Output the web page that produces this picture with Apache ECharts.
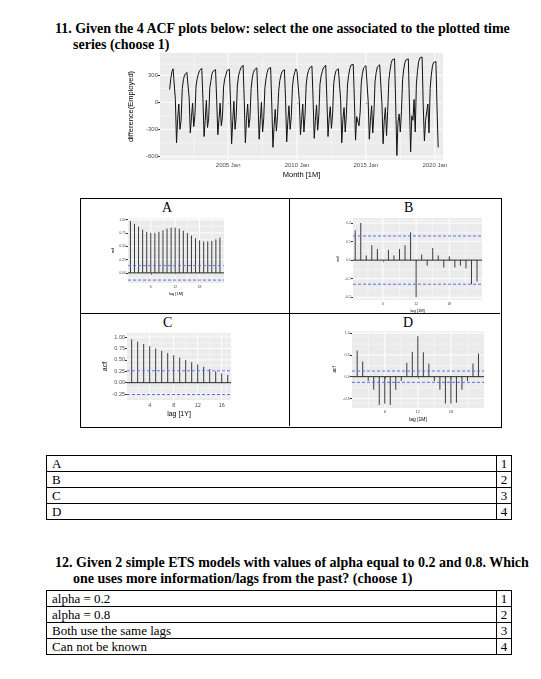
<!DOCTYPE html>
<html><head><meta charset="utf-8">
<script src="https://cdn.jsdelivr.net/npm/echarts@6/dist/echarts.min.js"></script>
<style>
body{margin:0;background:#fff;font-family:"Liberation Serif","Times New Roman",serif;}
#page{position:relative;width:541px;height:679px;}
.t{position:absolute;white-space:nowrap;color:#000;}
.q{font-weight:bold;font-size:14px;}
.box{position:absolute;border:1px solid #000;}
.lt{position:absolute;font-size:14px;}
table{position:absolute;border-collapse:collapse;font-size:13px;}
td{border:1px solid #000;padding:0 0 0 5px;line-height:15px;height:15px;}
td.n{width:14px;text-align:center;padding:0;}
#chart{position:absolute;left:0;top:0;width:541px;height:679px;}
</style></head><body><div id="page">
<div class="t q" style="left:55px;top:21px">11. Given the 4 ACF plots below: select the one associated to the plotted time</div>
<div class="t q" style="left:73px;top:37px">series (choose 1)</div>
<div class="box" style="left:80px;top:198px;width:420px;height:228px"></div>
<div class="box" style="left:289px;top:198px;width:0;height:228px;border-width:0 0 0 1px"></div>
<div class="box" style="left:80px;top:313px;width:420px;height:0;border-width:1px 0 0 0"></div>
<div class="lt" style="left:162px;top:200px">A</div>
<div class="lt" style="left:404px;top:200px">B</div>
<div class="lt" style="left:163px;top:315px">C</div>
<div class="lt" style="left:403px;top:315px">D</div>
<table style="left:46px;top:455px;width:466px">
<tr><td>A</td><td class="n">1</td></tr><tr><td>B</td><td class="n">2</td></tr>
<tr><td>C</td><td class="n">3</td></tr><tr><td>D</td><td class="n">4</td></tr></table>
<div class="t q" style="left:55px;top:555px">12. Given 2 simple ETS models with values of alpha equal to 0.2 and 0.8. Which</div>
<div class="t q" style="left:73px;top:571px">one uses more information/lags from the past? (choose 1)</div>
<table style="left:46px;top:590px;width:466px">
<tr><td>alpha = 0.2</td><td class="n">1</td></tr><tr><td>alpha = 0.8</td><td class="n">2</td></tr>
<tr><td>Both use the same lags</td><td class="n">3</td></tr><tr><td>Can not be known</td><td class="n">4</td></tr></table>
<div id="chart"></div>
</div>
<script>
// ---- data ----
var startYear = 2000, startMonth = 10; // first observation: 2000 Oct
var employedDiff = [
 140,260,340,
 370,390,30,-450,-180,-20,-300,-200,150,250,300,320,
 330,330,50,-340,-170,-10,-270,-150,180,260,310,350,
 370,375,40,-380,-200,20,-280,-180,160,240,320,345,
 355,360,20,-360,-190,-10,-260,-170,170,260,300,350,
 350,365,30,-460,-200,10,-300,-160,180,290,340,380,
 400,410,20,-450,-180,-20,-280,-170,150,270,330,360,
 370,380,10,-410,-190,0,-330,-180,160,260,330,370,
 380,385,-20,-500,-270,-80,-320,-150,120,240,300,340,
 355,360,30,-440,-210,-40,-300,-160,170,280,330,370,
 340,350,20,-360,-190,-20,-330,-140,200,300,350,380,
 390,400,30,-400,-200,-30,-310,-150,200,290,340,380,
 400,410,40,-380,-180,-50,-290,-130,210,300,350,365,
 370,375,30,-450,-190,-60,-330,-140,200,300,370,410,
 415,420,20,-420,-160,-180,-260,-110,220,320,380,400,
 405,410,10,-410,-200,-40,-340,-120,230,330,390,410,
 415,420,-20,-460,-200,-60,-370,-100,240,350,430,470,
 470,480,-30,-590,-220,-130,-330,-100,250,370,440,470,
 475,480,-40,-550,-150,-200,30,-330,200,350,450,490,
 495,500,-50,-430,-200,-180,-20,-340,150,300,400,440,
 445,450,-60,-500
];
var yearTicks = [2005,2010,2015,2020];
var yearTickLabels = ['2005 Jan','2010 Jan','2015 Jan','2020 Jan'];
var employedTicks = [-600,-300,0,300];

var lagsA = [1,2,3,4,5,6,7,8,9,10,11,12,13,14,15,16,17,18,19,20,21,22,23];
var acfA = [0.97,0.92,0.87,0.81,0.77,0.75,0.75,0.77,0.80,0.83,0.85,0.85,0.83,0.79,0.75,0.70,0.65,0.61,0.59,0.59,0.60,0.63,0.66];
var lagsB = lagsA;
var acfB = [0.16,0.20,0.025,0.08,0.06,0.0,0.055,0.025,0.06,0.08,0.15,-0.20,0.03,-0.03,0.065,0.025,-0.04,0.02,-0.04,-0.03,-0.045,-0.13,-0.115];
var lagsC = [1,2,3,4,5,6,7,8,9,10,11,12,13,14,15,16,17];
var acfC = [0.95,0.90,0.85,0.80,0.75,0.70,0.65,0.60,0.55,0.50,0.45,0.40,0.35,0.30,0.25,0.20,0.17];
var lagsD = lagsA;
var acfD = [0.60,0.35,-0.10,-0.30,-0.65,-0.62,-0.65,-0.30,-0.10,0.32,0.57,0.93,0.56,0.30,-0.10,-0.30,-0.62,-0.62,-0.60,-0.30,-0.10,0.30,0.53];
var confA = 0.135, confB = 0.13, confC = 0.26, confD = 0.13;
var lagTicks1M = [6,12,18], lagTicks1Y = [4,8,12,16];
var acfTicksA = [0,0.25,0.5,0.75,1], acfTicksB = [-0.2,-0.1,0,0.1,0.2], acfTicksC = [-0.25,0,0.25,0.5,0.75,1], acfTicksD = [-0.5,0,0.5,1];

// ---- build ----
var grids=[], xAxes=[], yAxes=[], series=[];
var GREY='#4d4d4d';
function hline(gi,xr,y,style,z){series.push({type:'line',xAxisIndex:gi,yAxisIndex:gi,silent:true,symbol:'none',z:z,
  lineStyle:style,data:[[xr[0],y],[xr[1],y]]});}
function vline(gi,yr,x,style,z){series.push({type:'line',xAxisIndex:gi,yAxisIndex:gi,silent:true,symbol:'none',z:z,
  lineStyle:style,data:[[x,yr[0]],[x,yr[1]]]});}
function mid(a){var r=[];for(var i=0;i<a.length-1;i++)r.push((a[i]+a[i+1])/2);return r;}
function addPanel(g, box, xr, yr, xt, yt, fs, xname, xlabFmt, ylabFmt, namefs){
  var gi=grids.length;
  grids.push({left:box[0],top:box[1],width:box[2],height:box[3],show:true,backgroundColor:'#ebebeb',borderWidth:0});
  xAxes.push({type:'value',gridIndex:gi,min:xr[0],max:xr[1],splitLine:{show:false},
    axisLine:{show:false},axisTick:{show:true,customValues:xt,length:2,lineStyle:{color:'#333'}},
    axisLabel:{customValues:xt,fontSize:fs,color:GREY,margin:2,fontFamily:'Liberation Sans',formatter:xlabFmt},
    name:xname,nameLocation:'middle',nameGap:fs+5,nameTextStyle:{fontSize:namefs,color:'#000',fontFamily:'Liberation Sans'}});
  yAxes.push({type:'value',gridIndex:gi,min:yr[0],max:yr[1],splitLine:{show:false},
    axisLine:{show:false},axisTick:{show:true,customValues:yt,length:2,lineStyle:{color:'#333'}},
    axisLabel:{customValues:yt,fontSize:fs,color:GREY,margin:2,fontFamily:'Liberation Sans',formatter:ylabFmt},
    name:g.yname,nameLocation:'middle',nameGap:g.ygap,nameTextStyle:{fontSize:namefs,color:'#000',fontFamily:'Liberation Sans'}});
  var mx=[xr[0]].concat(xt).concat([xr[1]]), my=[yr[0]].concat(yt).concat([yr[1]]);
  var minor={color:'#fff',width:0.5}, major={color:'#fff',width:1};
  mid(mx).forEach(function(v){vline(gi,yr,v,minor,1);});
  mid(my).forEach(function(v){hline(gi,xr,v,minor,1);});
  xt.forEach(function(v){vline(gi,yr,v,major,1);});
  yt.forEach(function(v){hline(gi,xr,v,major,1);});
  return gi;
}
function acfPanel(box,lags,vals,conf,xr,yr,xt,yt,fs,namefs,xname,yfmt){
  var gi=addPanel({yname:'acf',ygap:fs*2.6+4},box,xr,yr,xt,yt,fs,xname,null,yfmt,namefs);
  lags.forEach(function(l,i){series.push({type:'line',xAxisIndex:gi,yAxisIndex:gi,silent:true,symbol:'none',z:3,
    lineStyle:{color:'#3a3a3a',width:1},data:[[l,0],[l,vals[i]]]});});
  hline(gi,xr,0,{color:'#222',width:1},4);
  hline(gi,xr,conf,{color:'#5b6ef5',width:1,type:[3,2]},4);
  hline(gi,xr,-conf,{color:'#5b6ef5',width:1,type:[3,2]},4);
}
// top time series
var xs = employedDiff.map(function(v,i){return startYear + (startMonth-1+i)/12;});
var tg = addPanel({yname:'difference(Employed)',ygap:22},[160,53,283,107],[2000.05,2020.6],[-640,545],
  yearTicks,employedTicks,6,'Month [1M]',function(v){return yearTickLabels[yearTicks.indexOf(v)];},null,7.5);
series.push({type:'line',xAxisIndex:tg,yAxisIndex:tg,z:3,symbol:'none',lineStyle:{color:'#111',width:1},
  data:xs.map(function(x,i){return [x,employedDiff[i]];})});

function f2(v){return v.toFixed(2);} function f1(v){return v.toFixed(1);}
acfPanel([128,218,96,65],lagsA,acfA,confA,[0.4,24],[-0.19,1.03],lagTicks1M,acfTicksA,3.5,4,'lag [1M]',f2);
acfPanel([353,218,129,82],lagsB,acfB,confB,[0.6,23.9],[-0.215,0.227],lagTicks1M,acfTicksB,3.5,4,'lag [1M]',f1);
acfPanel([127,333,104,67],lagsC,acfC,confC,[0.22,17.55],[-0.38,1.09],lagTicks1Y,acfTicksC,5.5,7,'lag [1Y]',f2);
acfPanel([352,331,132,77],lagsD,acfD,confD,[0.06,24],[-0.72,1.05],lagTicks1M,acfTicksD,4,5,'lag [1M]',f1);

var chart=echarts.init(document.getElementById('chart'),null,{renderer:'canvas'});
chart.setOption({animation:false,grid:grids,xAxis:xAxes,yAxis:yAxes,series:series});
</script></body></html>
